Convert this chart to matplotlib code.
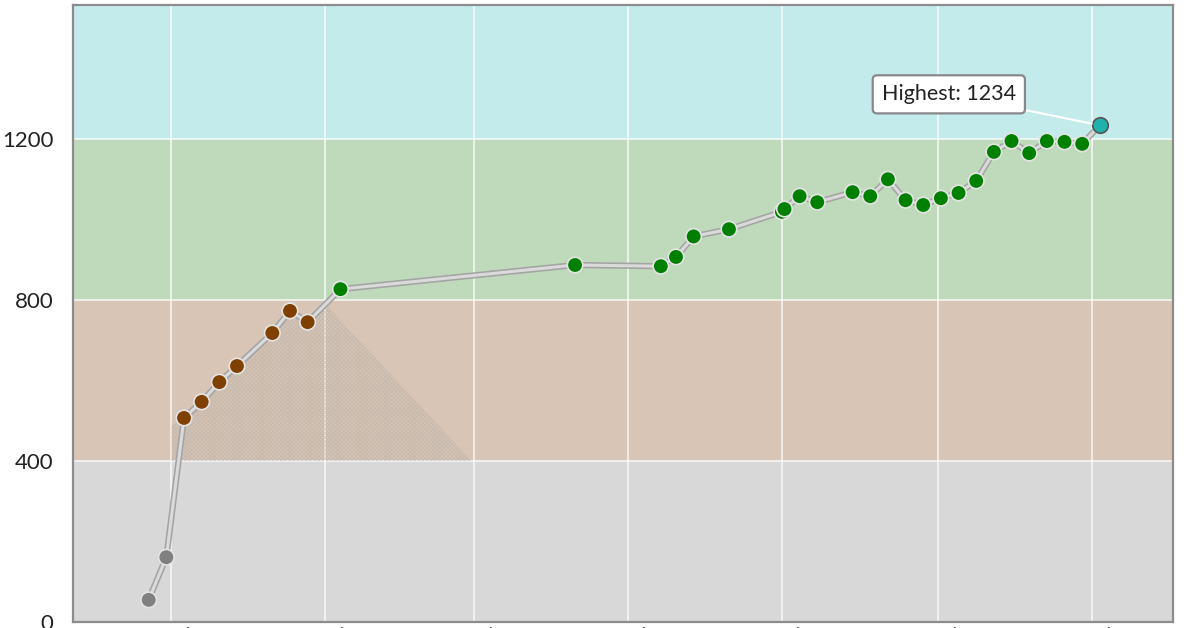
import matplotlib
matplotlib.use("Agg")
import matplotlib.pyplot as plt
import matplotlib.patheffects as pe
import matplotlib.dates as mdates
import numpy as np

plt.rcParams['font.family'] = ['Lato', 'DejaVu Sans']

# contest history
dates = ["2018-10-23", "2018-10-30", "2018-11-06", "2018-11-13", "2018-11-20",
         "2018-11-27", "2018-12-11", "2018-12-18", "2018-12-25", "2019-01-07",
         "2019-04-10", "2019-05-14", "2019-05-20", "2019-05-27", "2019-06-10",
         "2019-07-01", "2019-07-02", "2019-07-08", "2019-07-15", "2019-07-29",
         "2019-08-05", "2019-08-12", "2019-08-19", "2019-08-26", "2019-09-02",
         "2019-09-09", "2019-09-16", "2019-09-23", "2019-09-30", "2019-10-07",
         "2019-10-14", "2019-10-21", "2019-10-28", "2019-11-04"]
ratings = [55, 161, 507, 547, 596, 636, 718, 773, 745, 827,
           887, 884, 907, 958, 976, 1019, 1026, 1058, 1043, 1068,
           1058, 1100, 1048, 1036, 1053, 1066, 1096, 1168, 1195, 1165,
           1195, 1193, 1188, 1234]

# rating bands
band_edges = [0, 400, 800, 1200, 1533]
band_colors = ["#d8d8d8", "#d9c5b5", "#bfdabb", "#c4ebeb"]
point_colors = ["#808080", "#804000", "#008000", "#00c0c0"]

grid_dates = ["2018-11-01", "2019-01-01", "2019-03-01", "2019-05-01",
              "2019-07-01", "2019-09-01", "2019-11-01"]
grid_labels = ["2018/11", "2019/01", "2019/03", "2019/05",
               "2019/07", "2019/09", "2019/11"]
y_ticks = [0, 400, 800, 1200]

# hatched shadow region under the brown stretch
hatch_dates = ["2018-11-01", "2018-11-01"] + dates[2:9] + ["2019-01-02", "2019-02-28"]
hatch_values = [400, 489] + ratings[2:9] + [783, 400]

x = mdates.datestr2num(dates)
y = np.array(ratings)

fig = plt.figure(figsize=(12, 6.28), dpi=100)
ax = fig.add_axes([73 / 1200, 6 / 628, 1100 / 1200, 617 / 628])

for lo, hi, c in zip(band_edges[:-1], band_edges[1:], band_colors):
    ax.axhspan(lo, hi, color=c, zorder=0, lw=0)

ax.set_ylim(band_edges[0], band_edges[-1])
ax.set_xlim(mdates.datestr2num("2018-09-23"), mdates.datestr2num("2019-12-03"))

ax.set_yticks(y_ticks)
ax.set_xticks(mdates.datestr2num(grid_dates))
ax.set_xticklabels(grid_labels)
ax.grid(True, color="white", lw=1.1, alpha=0.85, zorder=1)
ax.tick_params(axis="both", length=0, labelsize=16, colors="#222222")
ax.tick_params(axis="y", pad=14)
ax.tick_params(axis="x", pad=3)

ax.fill(mdates.datestr2num(hatch_dates), hatch_values, facecolor="none",
        edgecolor="#b8b0a8", hatch="xxxxxxxx", lw=0, alpha=0.45, zorder=2)

ax.plot(x, y, color="#dadada", lw=2.2, zorder=3,
        path_effects=[pe.Stroke(linewidth=4.5, foreground="#a4a4a4"), pe.Normal()])

cols = [point_colors[min(int(v // 400), 3)] for v in y]
ax.scatter(x, y, s=125, c=cols, edgecolors="#e4e4e4", linewidths=1.2, zorder=4)

imax = int(np.argmax(y))
ax.scatter([x[imax]], [y[imax]], s=125, c="#20b2aa", edgecolors="#555555",
           linewidths=1.2, zorder=5)
ax.annotate("Highest: %d" % y[imax], xy=(x[imax], y[imax]),
            xytext=(-151, 31), textcoords="offset pixels",
            ha="center", va="center", fontsize=15.5, color="#222222",
            bbox=dict(boxstyle="round,pad=0.42,rounding_size=0.2", fc="white",
                      ec="#888888", lw=1.6),
            arrowprops=dict(arrowstyle="-", color="white", lw=1.5,
                            shrinkA=0, shrinkB=6),
            zorder=6)

for s in ax.spines.values():
    s.set_color("#8c8c8c")
    s.set_linewidth(1.6)

fig.savefig("out.png", dpi=100)
